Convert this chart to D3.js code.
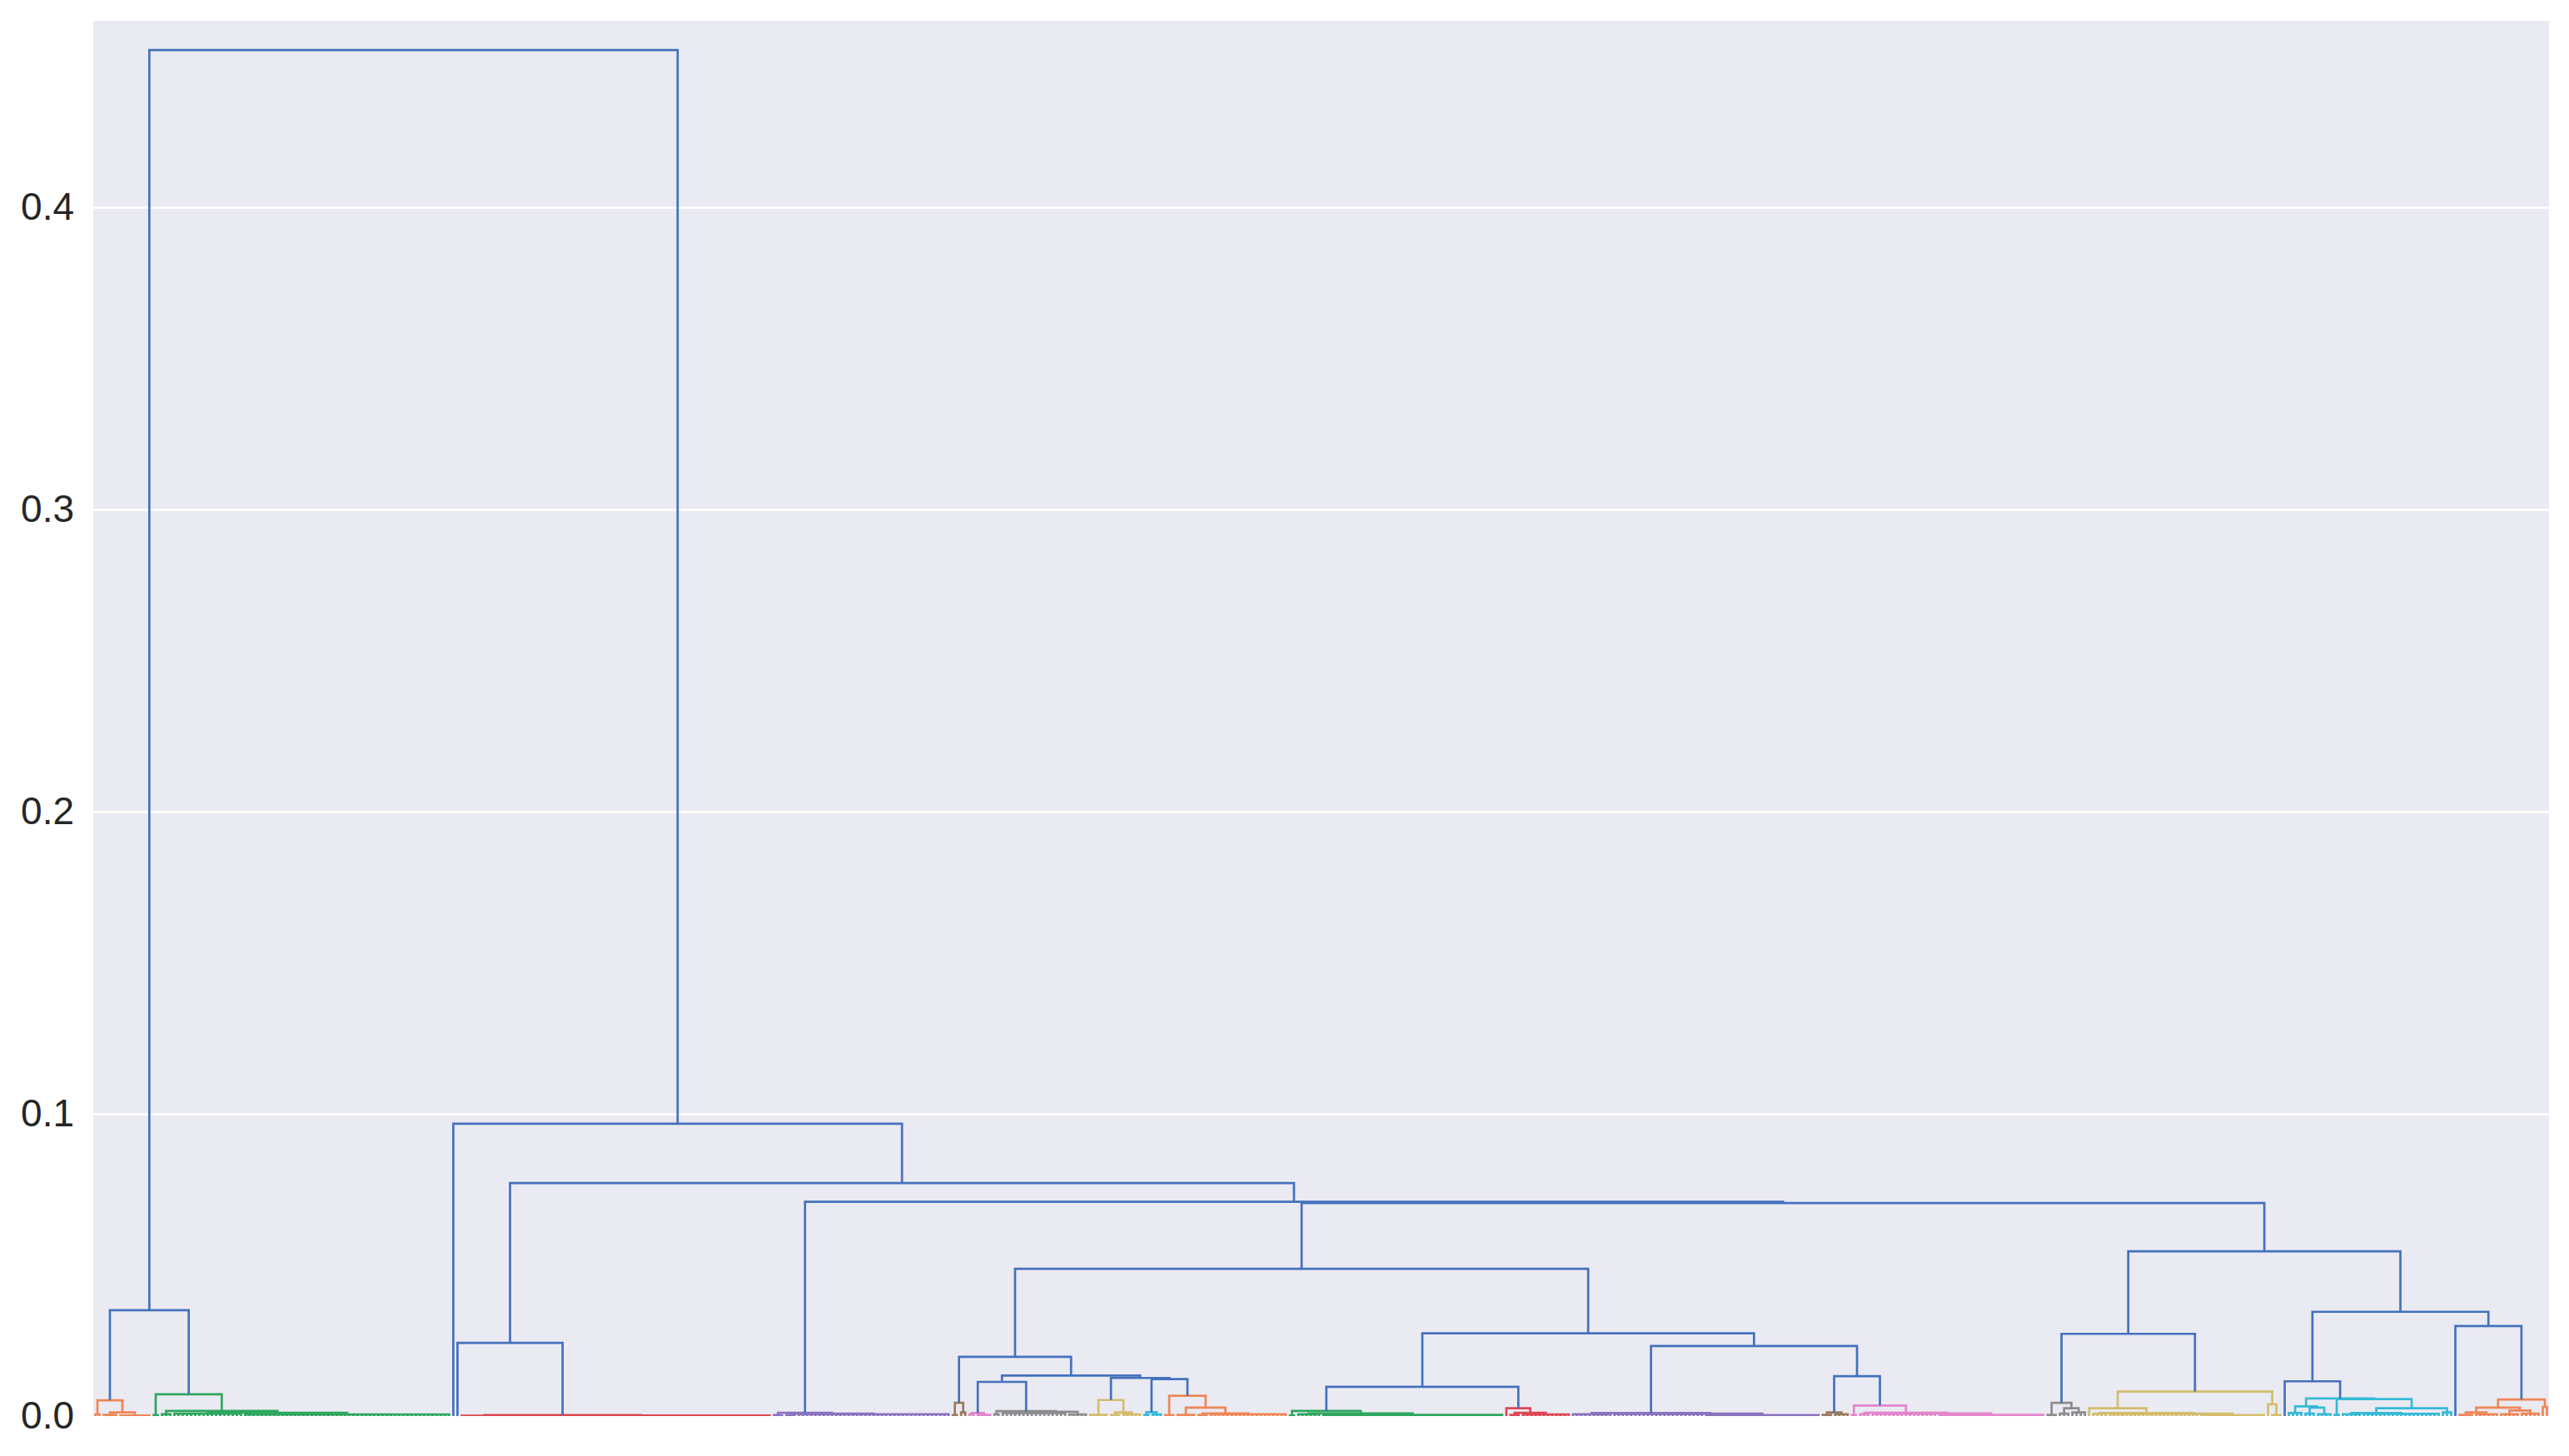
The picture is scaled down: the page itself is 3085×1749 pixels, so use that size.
<!DOCTYPE html>
<html>
<head>
    <meta charset="utf-8">
    <title>dendrogram</title>
    <style>
        body { margin: 0; background: #fff; }
        svg { display: block; }
    </style>
</head>
<body>
<svg width="3085" height="1749"></svg>

<script src="https://cdn.jsdelivr.net/npm/d3@7"></script>
<script>

    // link colours: above the threshold, then the cycle used for the clusters below it
    var aboveColor = '#4471bd';
    var palette = ['#ef8656', '#2ea65e', '#dc4652', '#8a72be', '#9a7a5c', '#e385ca', '#8c8c8c', '#d3bd6c', '#35bad6'];
    var colorThreshold = 0.009;

    var yTicks = [0, 0.1, 0.2, 0.3, 0.4];
    var yMax = 0.4617;

    // subtrees: [mergeHeight, child, child, ...]; a bare number n stands for n single leaves
    var orange1 = [0.0052, [0.0005, 2], [0.0012, [0.0004, 4], [0.0002, 8]]];
    var green1  = [0.0072, [0.0003, 2], [0.0017, [0.0006, 3], [0.0011, [0.0008, 17], [0.0005, 50]]]];
    var red1    = [0.0003, [0.0001, 12], [0.0002, 63]];
    var purple1 = [0.0011, [0.0003, 3], [0.0008, [0.0004, 3], [0.0006, 37]]];
    var brown1  = [0.0044, [0.0003, 2], [0.0012, 2]];
    var pink1   = [0.0010, [0.0005, 2], [0.0004, 4]];
    var gray1   = [0.0016, [0.0006, 2], [0.0014, [0.0010, 16], [0.0005, 5]]];
    var olive1  = [0.0053, [0.0004, 5], [0.0012, [0.0003, 3], [0.0005, 5]]];
    var cyan1   = [0.0013, [0.0003, 2], [0.0005, 3]];
    var orange2 = [0.0067, [0.0003, 3], [0.0028, [0.0004, 5], [0.0009, [0.0004, 3], [0.0006, 19]]]];
    var green2  = [0.0017, [0.0002, 2], [0.0009, [0.0006, 6], [0.0004, 44]]];
    var red2    = [0.0026, 1, [0.0011, [0.0004, 3], [0.0005, 12]]];
    var purple2 = [0.0010, [0.0006, 10], [0.0008, [0.0007, 22], [0.0003, 28]]];
    var brown2  = [0.0012, [0.0004, 3], [0.0006, 4]];
    var pink2   = [0.0035, [0.0003, 2], [0.0011, [0.0006, 3], [0.0009, [0.0007, 16], [0.0004, 26]]]];
    var gray2   = [0.0044, [0.0004, 3], [0.0026, [0.0008, 3], [0.0012, 4]]];
    var olive2  = [0.0081, [0.0026, 1, [0.0010, [0.0007, 4], [0.0008, [0.0006, 22], [0.0003, 16]]]], [0.0039, 1, [0.0003, 3]]];
    var cyan2   = [0.0058, [0.0032, [0.0010, 4], [0.0028, [0.0008, 3], [0.0006, 4]]],
                           [0.0056, [0.0004, 2], [0.0026, [0.0010, [0.0006, 5], [0.0007, 19]], [0.0012, 3]]]];
    var orange3 = [0.0055, [0.0028, [0.0012, [0.0004, 4], [0.0006, 6]], [0.0018, [0.0006, 5], [0.0008, 5]]], [0.0030, 2]];

    // upper (blue) merges
    var leftBranch  = [0.035, orange1, green1];
    var midLeft     = [0.0196, brown1, [0.0134, [0.0113, pink1, gray1], [0.0126, olive1, [0.0122, cyan1, orange2]]]];
    var midRight    = [0.0274, [0.0097, green2, red2], [0.0232, purple2, [0.0132, brown2, pink2]]];
    var rightBranch = [0.0545, [0.0272, gray2, olive2], [0.0345, [0.0115, 1, cyan2], [0.0298, 1, orange3]]];
    var rest        = [0.0967, 1, [0.0771, [0.0242, 1, red1], [0.0709, purple1, [0.0705, [0.0487, midLeft, midRight], rightBranch]]]];
    var tree        = [0.452, leftBranch, rest];

    var plotLeft = 112, plotRight = 3061, plotTop = 25, plotBottom = 1701;

    function build(spec) {
        var node = { h: spec[0], children: [] };
        spec.slice(1).forEach(function(c) {
            if (typeof c === 'number') {
                for (var k = 0; k < c; k++) node.children.push({ h: 0 });
            } else {
                node.children.push(build(c));
            }
        });
        return node;
    }

    var root = d3.hierarchy(build(tree), function(d) { return d.children && d.children.length ? d.children : null; });
    var leaves = root.leaves();
    var n = leaves.length;

    var x = d3.scaleLinear().domain([0, n]).range([plotLeft, plotRight]);
    var y = d3.scaleLinear().domain([0, yMax]).range([plotBottom, plotTop]);

    leaves.forEach(function(l, i) { l.u = i + 0.5; });
    root.eachAfter(function(d) {
        if (d.children) d.u = d3.mean(d.children, function(c) { return c.u; });
    });

    // colour the links the way scipy does: new colour for each top-most merge under the threshold
    var ci = 0;
    root.eachBefore(function(d) {
        if (!d.children) return;
        if (d.data.h >= colorThreshold) d.color = aboveColor;
        else if (d.parent && d.parent.color !== aboveColor) d.color = d.parent.color;
        else d.color = palette[ci++ % palette.length];
    });

    var svg = d3.select('svg');
    svg.append('rect').attr('width', 3085).attr('height', 1749).attr('fill', '#fff');

    svg.append('defs').append('clipPath').attr('id', 'plot')
        .append('rect')
        .attr('x', plotLeft).attr('y', plotTop)
        .attr('width', plotRight - plotLeft).attr('height', plotBottom - plotTop);

    svg.append('rect')
        .attr('x', plotLeft).attr('y', plotTop)
        .attr('width', plotRight - plotLeft).attr('height', plotBottom - plotTop)
        .attr('fill', '#eaeaf2');

    var yAxis = d3.axisLeft(y)
        .tickValues(yTicks)
        .tickFormat(d3.format('.1f'))
        .tickSize(-(plotRight - plotLeft))
        .tickPadding(23);

    var ga = svg.append('g')
        .attr('transform', 'translate(' + plotLeft + ',0)')
        .call(yAxis);
    // axis sets its own font, so restyle after the call
    ga.attr('font-family', '"Liberation Sans", Arial, sans-serif').attr('font-size', 46);
    ga.select('.domain').remove();
    ga.selectAll('.tick line').attr('stroke', '#fff').attr('stroke-width', 2.5);
    ga.selectAll('.tick text').attr('fill', '#262626');

    function linkPath(d) {
        var yh = y(d.data.h);
        var kids = d.children;
        var first = kids[0], last = kids[kids.length - 1];
        var p = 'M' + x(first.u) + ',' + y(first.data.h) + 'V' + yh + 'H' + x(last.u) + 'V' + y(last.data.h);
        for (var k = 1; k < kids.length - 1; k++) {
            p += 'M' + x(kids[k].u) + ',' + y(kids[k].data.h) + 'V' + yh;
        }
        return p;
    }

    var links = root.descendants().filter(function(d) { return d.children; }).reverse();

    svg.append('g')
        .attr('clip-path', 'url(#plot)')
        .selectAll('path')
        .data(links)
        .enter().append('path')
        .attr('d', linkPath)
        .attr('fill', 'none')
        .attr('stroke', function(d) { return d.color; })
        .attr('stroke-width', 2.7)
        .attr('stroke-linejoin', 'miter');

</script>
</body>
</html>
